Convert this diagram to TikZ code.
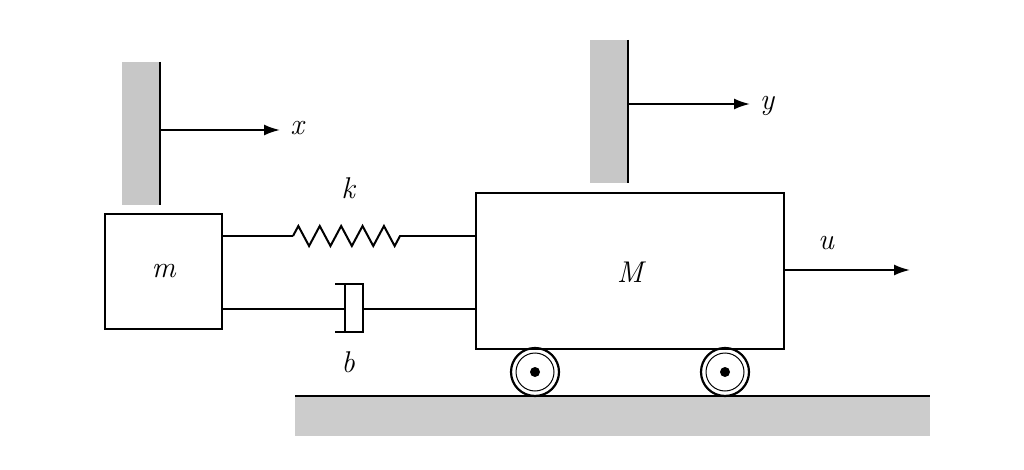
\documentclass[tikz,border=0pt]{standalone}
\usetikzlibrary{decorations.pathmorphing,arrows.meta}
\begin{document}
\begin{tikzpicture}[x=1pt,y=-1pt,line width=2pt,
  hatchwall/.style={fill=black!22,draw=none},
  lbl/.style={font=\itshape\fontsize{30}{30}\selectfont},
  arr/.style={-{Latex[length=16pt,width=11pt]}}]
\useasboundingbox (0,0) rectangle (1024,470);
% walls
\fill[hatchwall] (122,62) rectangle (160,205);
\draw (160,62) -- (160,205);
\coordinate (xs) at (160,130); \coordinate (xe) at (280,130);
\draw[arr] (xs) -- (xe);
\node[lbl] (xl) at (297,128) {x};
\fill[hatchwall] (590,40) rectangle (628,183);
\draw (628,40) -- (628,183);
\coordinate (ys) at (628,104); \coordinate (ye) at (750,104);
\draw[arr] (ys) -- (ye);
\node[lbl] (yl) at (767,106) {y};
% masses
\node[draw,minimum width=117pt,minimum height=115pt,anchor=north west,inner sep=0] (m) at (104,213) {};
\node[lbl] at (m.center) {m};
\node[draw,minimum width=308pt,minimum height=156pt,anchor=north west,inner sep=0] (M) at (475,192) {};
\node[lbl] at (630,272) {M};
% spring
\coordinate (s1) at (293,236); \coordinate (s2) at (400,236);
\draw (221,236) -- (s1);
\draw[decorate,decoration={zigzag,segment length=21.4pt,amplitude=10pt}] (s1) -- (s2);
\draw (s2) -- (475,236);
\node[lbl] (k) at (348,188) {k};
% damper
\draw (221,309) -- (345,309);
\draw (345,284) -- (345,332);
\draw (335,284) -- (363,284) -- (363,332) -- (335,332);
\draw (363,309) -- (475,309);
\node[lbl] (b) at (348,362) {b};
% force
\draw[arr] (783,270) -- (910,270);
\node[lbl] (u) at (826,243) {u};
% ground
\fill[black!20] (295,396) rectangle (930,436);
\draw (295,396) -- (930,396);
% wheels
\foreach \cx in {535,725}{
  \draw[line width=2.2pt] (\cx,372) circle (24);
  \draw[line width=1pt] (\cx,372) circle (19);
  \fill (\cx,372) circle (5);
}
\end{tikzpicture}
\end{document}
